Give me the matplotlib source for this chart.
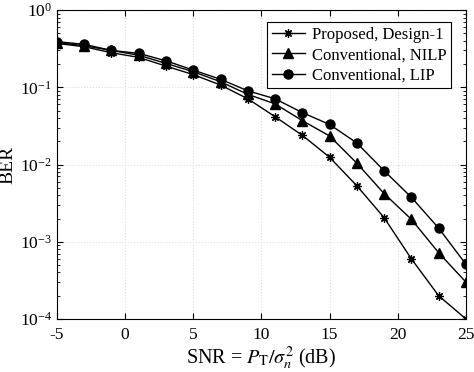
import matplotlib
matplotlib.use("Agg")
import matplotlib.pyplot as plt
import numpy as np

snr = [-5, -3, -1, 1, 3, 5, 7, 9, 11, 13, 15, 17, 19, 21, 23, 25]
ber_proposed = [0.37, 0.335, 0.28, 0.244, 0.188, 0.146, 0.107, 0.071, 0.0416, 0.0239,
                0.0124, 0.0053, 0.00205, 0.0006, 0.0002, 0.0001]
ber_nilp = [0.38, 0.345, 0.30, 0.26, 0.204, 0.159, 0.118, 0.081, 0.061, 0.037,
            0.0234, 0.0104, 0.0042, 0.00195, 0.00072, 0.0003]
ber_lip = [0.39, 0.36, 0.30, 0.275, 0.22, 0.167, 0.127, 0.090, 0.071, 0.047,
           0.033, 0.019, 0.0083, 0.00376, 0.0015, 0.00051]
labels = ["Proposed, Design-1", "Conventional, NILP", "Conventional, LIP"]

plt.rcParams['font.family'] = ['Liberation Serif', 'DejaVu Serif']
plt.rcParams['mathtext.fontset'] = 'stix'
plt.rcParams['axes.unicode_minus'] = False

fig = plt.figure(figsize=(4.74, 3.72), dpi=100)
ax = fig.add_axes([0.120, 0.1425, 0.863, 0.8305])

ax.semilogy(snr, ber_proposed, color="black", lw=1, marker=(8, 2, 0), ms=6, mew=0.9, label=labels[0])
ax.semilogy(snr, ber_nilp, color="black", lw=1, marker="^", ms=7, label=labels[1])
ax.semilogy(snr, ber_lip, color="black", lw=1, marker="o", ms=6.5, label=labels[2])

ax.set_xlim(-5, 25)
ax.set_ylim(1e-4, 1)
ax.set_xticks([-5, 0, 5, 10, 15, 20, 25])
ax.tick_params(which="both", direction="in", top=True, right=True, labelsize=12.5)
ax.tick_params(which="major", length=4)
ax.tick_params(which="minor", length=2)
ax.tick_params(axis="x", pad=6)
ax.grid(True, which="major", linestyle=":", color="#dddddd", lw=0.8)

ax.set_xlabel(r"SNR = $P_{\mathrm{T}}/\sigma_n^2$ (dB)", fontsize=14.5, va="baseline")
ax.xaxis.set_label_coords(0.5, -0.146)
ax.set_ylabel("BER", fontsize=14, va="center")
ax.yaxis.set_label_coords(-0.12, 0.5)

leg = ax.legend(loc="upper left", bbox_to_anchor=(0.513, 0.961), borderaxespad=0,
                fontsize=12, frameon=True, fancybox=False,
                edgecolor="black", framealpha=1, handlelength=2, borderpad=0.3,
                labelspacing=0.25, handletextpad=0.4)
leg.get_frame().set_linewidth(0.8)

fig.savefig("out.png", dpi=100)
